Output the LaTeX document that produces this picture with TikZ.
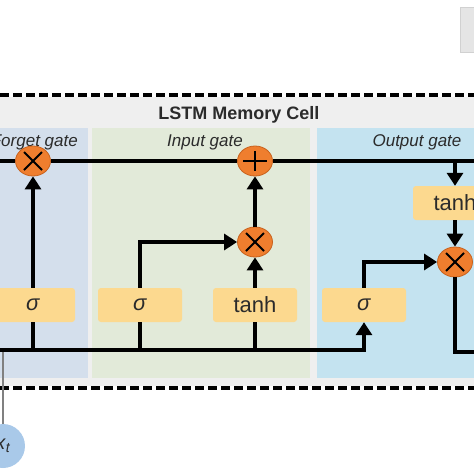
\documentclass[tikz,border=0pt]{standalone}
\usepackage{fontspec}
\setmainfont{Liberation Sans}
\usetikzlibrary{arrows.meta,shapes.geometric,calc}
\definecolor{cellbg}{HTML}{EFEFEF}
\definecolor{fgbg}{HTML}{D4DFEC}
\definecolor{igbg}{HTML}{E2EAD9}
\definecolor{ogbg}{HTML}{C4E3F0}
\definecolor{opfill}{HTML}{EF7E2E}
\definecolor{opdraw}{HTML}{C8621E}
\definecolor{actfill}{HTML}{FCD98F}
\definecolor{inpfill}{HTML}{A9C9E9}
\definecolor{txt}{HTML}{2B2B2B}
\begin{document}
\begin{tikzpicture}[x=1pt,y=-1pt,
  flow/.style={line width=4.2pt, black},
  arr/.style={flow, -{Triangle[width=16pt,length=13pt]}},
  op/.style={ellipse, fill=opfill, draw=opdraw, line width=0.8pt, minimum width=35pt, minimum height=30pt, inner sep=0pt},
  sym/.style={line width=1.8pt, black},
  act/.style={fill=actfill, rounded corners=3pt, minimum width=84pt, minimum height=34pt, inner sep=0pt, font=\fontsize{22}{24}\selectfont, text=txt},
  gatelabel/.style={font=\fontsize{17}{19}\selectfont\itshape, text=txt, inner sep=0pt},
  dashline/.style={line width=3.5pt, dash pattern=on 9pt off 4pt}
]
\useasboundingbox (0,0) rectangle (474,474);
% backgrounds
\fill[cellbg] (-5,97) rectangle (480,386);
\fill[fgbg] (-5,128) rectangle (88,378);
\fill[igbg] (92,128) rectangle (310,378);
\fill[ogbg] (317,128) rectangle (480,378);
\draw[dashline] (0,95) -- (474,95);
\draw[dashline] (0,388) -- (474,388);
\filldraw[fill=black!10, draw=black!18, line width=0.8pt] (460,7) rectangle (480,52);
% labels
\node[font=\fontsize{18}{20}\selectfont\bfseries, text=txt] (title) at (239,115) {LSTM Memory Cell};
\node[gatelabel, anchor=east] (lf) at (78,142) {Forget gate};
\node[gatelabel] (li) at (205,142) {Input gate};
\node[gatelabel] (lo) at (417,142) {Output gate};
% operators
\node[op] (mf) at (33,161) {};
\node[op] (pl) at (255,161) {};
\node[op] (mi) at (255,242) {};
\node[op] (mo) at (455,262) {};
\draw[sym] ($(mf)+(-9,-9)$) -- ($(mf)+(9,9)$);
\draw[sym] ($(mf)+(-9,9)$) -- ($(mf)+(9,-9)$);
\draw[sym] ($(mi)+(-9,-9)$) -- ($(mi)+(9,9)$);
\draw[sym] ($(mi)+(-9,9)$) -- ($(mi)+(9,-9)$);
\draw[sym] ($(mo)+(-9,-9)$) -- ($(mo)+(9,9)$);
\draw[sym] ($(mo)+(-9,9)$) -- ($(mo)+(9,-9)$);
\draw[sym] ($(pl)+(-12,0)$) -- ($(pl)+(12,0)$);
\draw[sym] ($(pl)+(0,-10)$) -- ($(pl)+(0,10)$);
% activations
\node[act] (sf) at (33,305) {\textit{σ}};
\node[act] (si) at (140,305) {\textit{σ}};
\node[act] (ti) at (255,305) {tanh};
\node[act] (so) at (364,305) {\textit{σ}};
\node[act] (to) at (455,203) {tanh};
% input
\node[circle, fill=inpfill, minimum size=44pt, inner sep=0pt, font=\fontsize{20}{22}\selectfont, text=txt] (xt) at (3,446) {\textit{x}\textsubscript{\textit{t}}};
% coordinates
\coordinate (cL) at (-5,161);
\coordinate (cR) at (480,161);
\coordinate (co) at (455,161);
\coordinate (bL) at (-5,350);
\coordinate (b1) at (33,350);
\coordinate (b2) at (140,350);
\coordinate (b3) at (255,350);
\coordinate (bx) at (3,350);
\coordinate (hR) at (480,352);
% cell state
\draw[flow] (cL) -- (mf.west);
\draw[flow] (mf.east) -- (pl.west);
\draw[flow] (pl.east) -- (cR);
% bottom bus
\draw[gray, line width=2pt] (xt.north) -- (bx);
\draw[arr] (bL) -| (so.south);
\draw[flow] (b1) -- (sf.south);
\draw[flow] (b2) -- (si.south);
\draw[flow] (b3) -- (ti.south);
% forget
\draw[arr] (sf.north) -- (mf.south);
% input
\draw[arr] (si.north) |- (mi.west);
\draw[arr] (ti.north) -- (mi.south);
\draw[arr] (mi.north) -- (pl.south);
% output
\draw[arr] (co) -- (to.north);
\draw[arr] (to.south) -- (mo.north);
\draw[arr] (so.north) |- (mo.west);
\draw[flow] (mo.south) |- (hR);
\end{tikzpicture}
\end{document}
